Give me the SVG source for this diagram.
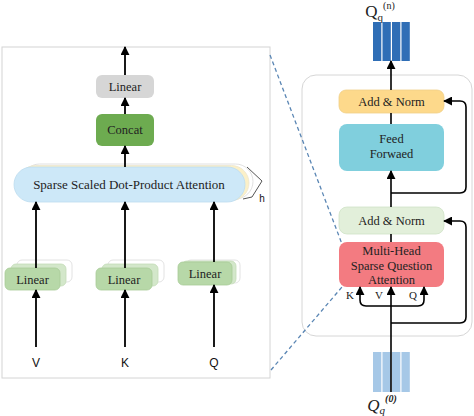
<svg xmlns="http://www.w3.org/2000/svg" width="474" height="416" viewBox="0 0 474 416">
<defs>
<marker id="ah" viewBox="0 0 10 10" refX="9" refY="5" markerWidth="9" markerHeight="9" markerUnits="userSpaceOnUse" orient="auto">
<path d="M0,0 L10,5 L0,10 z" fill="#000"/>
</marker>
<style>
.t{font-family:"Liberation Serif","Times New Roman",serif;fill:#222;text-anchor:middle}
.s{font-family:"Liberation Sans",Arial,sans-serif;fill:#111;text-anchor:middle}
.ln{stroke:#000;stroke-width:1.8;fill:none}
.rl{stroke:#000;stroke-width:1.6;fill:none}
.dash{stroke:#5a86b4;stroke-width:1.3;stroke-dasharray:4 3;fill:none}
.lin{fill:#b7d8a8;stroke:#a8cc98;stroke-width:0.8}
.lin2{fill:#d3e7ca;stroke:#c4dcb8;stroke-width:0.8}
.lin3{fill:#fff;stroke:#dadada;stroke-width:0.8}
</style>
</defs>
<rect width="474" height="416" fill="#fff"/>

<g id="left-panel">
<rect x="2" y="47" width="268" height="331" fill="#fff" stroke="#d4d4d4" stroke-width="1"/>
</g>
<g id="right-panel">
<rect x="302" y="75" width="170" height="261" rx="14" fill="#fff" stroke="#d6d6d6" stroke-width="1"/>
</g>

<g id="linear-out">
<rect x="96" y="75" width="58" height="23" rx="6" fill="#d6d6d6"/>
<text class="t" x="125" y="91" font-size="12.5">Linear</text>
</g>
<g id="concat">
<rect x="96" y="114" width="58" height="32" rx="6" fill="#6dab50"/>
<text class="t" x="125" y="134" font-size="12.5">Concat</text>
</g>
<g id="attention">
<rect x="22" y="164" width="231" height="35" rx="17.5" fill="#fff" stroke="#d8d8d8" stroke-width="0.8"/>
<rect x="18" y="165.5" width="231" height="35" rx="17.5" fill="#fbf0c8" stroke="#ece6cf" stroke-width="0.8"/>
<rect x="14" y="167" width="231" height="35" rx="17.5" fill="#cde8f8" stroke="#bcdcef" stroke-width="0.8"/>
<text class="t" x="129" y="189" font-size="13">Sparse Scaled Dot-Product Attention</text>
<path d="M247,167 L262,181 L252,197 L243,199" fill="none" stroke="#555" stroke-width="1"/>
<text class="s" x="262" y="202" font-size="10" text-anchor="start">h</text>
</g>
<g id="linear-v">
<rect class="lin3" x="17" y="260" width="55" height="22" rx="5"/>
<rect class="lin2" x="11" y="264" width="55" height="22" rx="5"/>
<rect class="lin" x="5" y="268" width="55" height="22" rx="5"/>
<text class="t" x="32.5" y="284" font-size="12.5">Linear</text>
</g>
<g id="linear-k">
<rect class="lin3" x="108" y="260" width="56" height="22" rx="5"/>
<rect class="lin2" x="102" y="264" width="56" height="22" rx="5"/>
<rect class="lin" x="96" y="268" width="56" height="22" rx="5"/>
<text class="t" x="124" y="284" font-size="12.5">Linear</text>
</g>
<g id="linear-q">
<rect class="lin3" x="186" y="260" width="54" height="23" rx="5"/>
<rect class="lin2" x="182" y="261" width="54" height="23" rx="5"/>
<rect class="lin" x="178" y="262" width="54" height="23" rx="5"/>
<text class="t" x="205" y="278" font-size="12.5">Linear</text>
</g>
<g id="labels-left">
<text class="s" x="36" y="367" font-size="12">V</text>
<text class="s" x="125" y="367" font-size="12">K</text>
<text class="s" x="214" y="367" font-size="12">Q</text>
</g>

<g id="qn">
<text class="t" x="380" y="17" font-size="17" text-anchor="start">Q<tspan font-size="11" dy="4">q</tspan><tspan font-size="10" dy="-12">(n)</tspan></text>
<rect x="373" y="22" width="8.3" height="39" fill="#2f6eb6"/>
<rect x="382.5" y="22" width="8.3" height="39" fill="#2f6eb6"/>
<rect x="392" y="22" width="8.3" height="39" fill="#2f6eb6"/>
<rect x="401.5" y="22" width="8.3" height="39" fill="#2f6eb6"/>
</g>
<g id="addnorm-top">
<rect x="339" y="90" width="105" height="23" rx="7" fill="#fdd98b" stroke="#f0cf88" stroke-width="0.8"/>
<text class="t" x="391.5" y="106" font-size="12.5">Add &amp; Norm</text>
</g>
<g id="feed-forward">
<rect x="339" y="124" width="105" height="47" rx="8" fill="#80cfdd"/>
<text class="t" x="391.5" y="143" font-size="12.5">Feed</text>
<text class="t" x="391.5" y="158" font-size="12.5">Forwaed</text>
</g>
<g id="addnorm-bottom">
<rect x="339" y="207" width="105" height="27" rx="8" fill="#e2efda" stroke="#cfe2c6" stroke-width="0.8"/>
<text class="t" x="391.5" y="225" font-size="12.5">Add &amp; Norm</text>
</g>
<g id="multihead">
<rect x="339" y="242" width="105" height="45" rx="8" fill="#f37b81"/>
<text class="t" x="391.5" y="255" font-size="12.5">Multi-Head</text>
<text class="t" x="391.5" y="269.5" font-size="12.5">Sparse Question</text>
<text class="t" x="391.5" y="284" font-size="12.5">Attention</text>
</g>
<g id="labels-right">
<text class="t" x="350" y="299" font-size="11">K</text>
<text class="t" x="379" y="299" font-size="11">V</text>
<text class="t" x="413" y="299" font-size="11">Q</text>
</g>
<g id="q0">
<rect x="373" y="352" width="8.3" height="40" fill="#a6c8e7"/>
<rect x="382.5" y="352" width="8.3" height="40" fill="#a6c8e7"/>
<rect x="392" y="352" width="8.3" height="40" fill="#a6c8e7"/>
<rect x="401.5" y="352" width="8.3" height="40" fill="#a6c8e7"/>
<text class="t" x="382" y="411" font-size="17" font-style="italic" text-anchor="start">Q<tspan font-size="11" dy="3">q</tspan><tspan font-size="10" font-weight="bold" dy="-12">(0)</tspan></text>
</g>

<g id="connectors">
<path class="dash" d="M270,55 L342,244"/>
<path class="dash" d="M271,370 L342,287"/>
<path class="ln" d="M125,75 V47" marker-end="url(#ah)"/>
<path class="ln" d="M125,114 V98" marker-end="url(#ah)"/>
<path class="ln" d="M125,167 V146" marker-end="url(#ah)"/>
<path class="ln" d="M36,268 V202" marker-end="url(#ah)"/>
<path class="ln" d="M125,268 V202" marker-end="url(#ah)"/>
<path class="ln" d="M214,262 V202" marker-end="url(#ah)"/>
<path class="ln" d="M36,347 V290" marker-end="url(#ah)"/>
<path class="ln" d="M125,347 V290" marker-end="url(#ah)"/>
<path class="ln" d="M214,347 V285" marker-end="url(#ah)"/>
<path class="rl" d="M391,90 V61" marker-end="url(#ah)"/>
<path class="rl" d="M391,113 V124"/>
<path class="rl" d="M391,207 V171" marker-end="url(#ah)"/>
<path class="rl" d="M391,193 H460 Q466,193 466,187 V107 Q466,101 460,101 H444" marker-end="url(#ah)"/>
<path class="rl" d="M391,234 V242"/>
<path class="rl" d="M391,392 V287" marker-end="url(#ah)"/>
<path class="rl" d="M391,306 H366 Q360,306 360,300 V287" marker-end="url(#ah)"/>
<path class="rl" d="M391,306 H418 Q424,306 424,300 V287" marker-end="url(#ah)"/>
<path class="rl" d="M391,323 H460 Q466,323 466,317 V227 Q466,221 460,221 H444" marker-end="url(#ah)"/>
</g>
</svg>
